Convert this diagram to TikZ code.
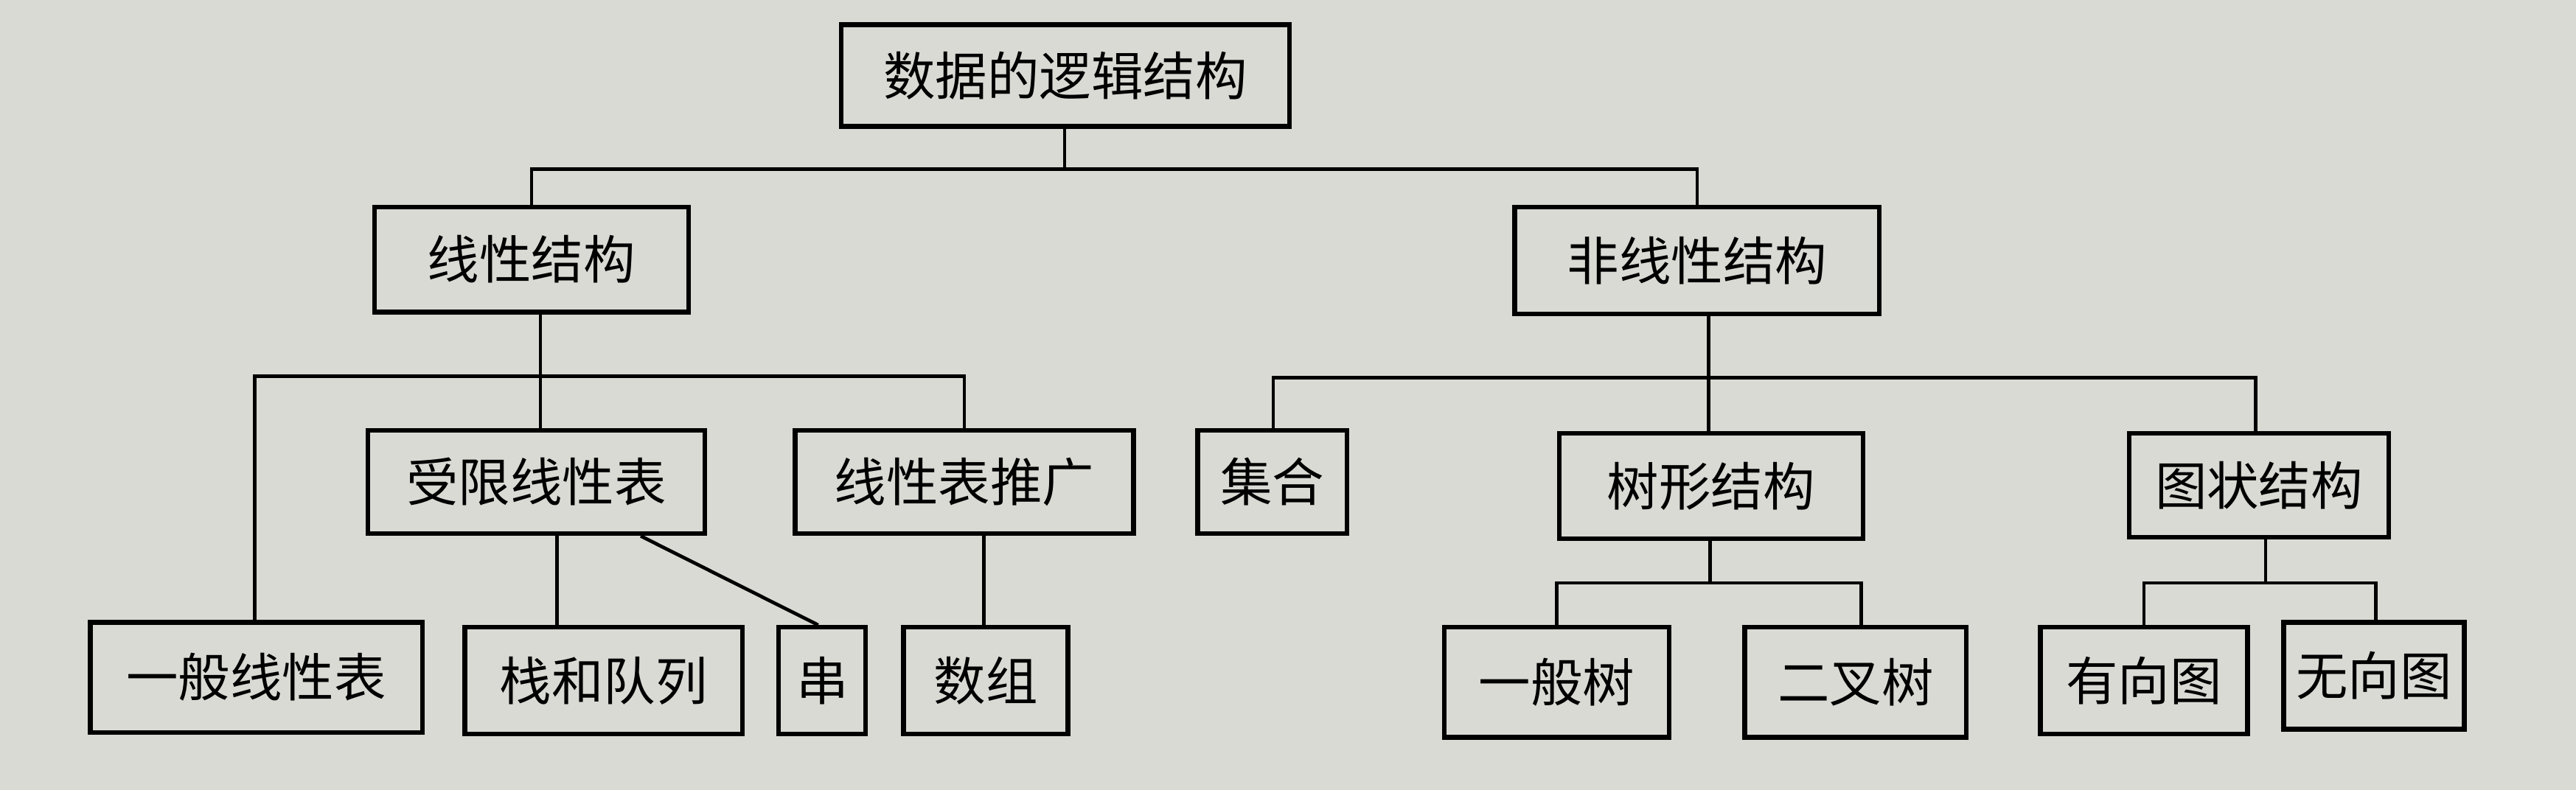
\documentclass[tikz,border=0pt]{standalone}
\usepackage{fontspec}
\setmainfont{Noto Sans CJK SC}
\usepackage[HTML]{xcolor}
\usepackage{tikz}
\usetikzlibrary{positioning}
\definecolor{paper}{HTML}{DADAD5}

\tikzset{
  box/.style={draw, thick, inner sep=0pt, font=\fontsize{9}{10}\selectfont},
  link/.style={draw, semithick}
}

\begin{document}
\begin{tikzpicture}[x=1mm, y=1mm]
\fill[paper] (0,0) rectangle (156.8,48.1);
\useasboundingbox (0,0) rectangle (156.8,48.1);

% top level
\node[box, minimum width=27.3mm, minimum height=6.2mm] (root) at (64.85,43.5) {数据的逻辑结构};
\node[box, minimum width=19.1mm, minimum height=6.4mm] (lin) at (32.35,32.3) {线性结构};
\node[box, minimum width=22.2mm, minimum height=6.5mm] (nonlin) at (103.3,32.25) {非线性结构};

% second level
\node[box, minimum width=20.5mm, minimum height=6.3mm] (limit) at (32.65,18.75) {受限线性表};
\node[box, minimum width=20.6mm, minimum height=6.3mm] (ext) at (58.7,18.75) {线性表推广};
\node[box, minimum width=9.1mm, minimum height=6.3mm] (set) at (77.45,18.75) {集合};
\node[box, minimum width=18.5mm, minimum height=6.4mm] (tree) at (104.15,18.5) {树形结构};
\node[box, minimum width=15.8mm, minimum height=6.3mm] (graph) at (137.5,18.55) {图状结构};

% leaves
\node[box, minimum width=20.2mm, minimum height=6.7mm] (list) at (15.6,6.85) {一般线性表};
\node[box, minimum width=16.9mm, minimum height=6.5mm] (stack) at (36.75,6.65) {栈和队列};
\node[box, minimum width=5.3mm, minimum height=6.5mm] (str) at (50.05,6.65) {串};
\node[box, minimum width=10mm, minimum height=6.5mm] (arr) at (60,6.65) {数组};
\node[box, minimum width=13.7mm, minimum height=6.7mm] (gtree) at (94.75,6.55) {一般树};
\node[box, minimum width=13.5mm, minimum height=6.7mm] (btree) at (112.95,6.55) {二叉树};
\node[box, minimum width=12.6mm, minimum height=6.5mm] (dgraph) at (130.5,6.65) {有向图};
\node[box, minimum width=11mm, minimum height=6.5mm] (ugraph) at (144.5,6.95) {无向图};

% buses
\coordinate (bRoot) at (64.8,37.8);
\coordinate (bLin) at (32.9,25.2);
\coordinate (bNon) at (104.0,25.1);
\coordinate (bTree) at (104.1,12.6);
\coordinate (bGraph) at (137.9,12.6);

\draw[link] (root.south -| bRoot) -- (bRoot);
\draw[link] (lin.north) |- (bRoot) -| (nonlin.north);

\draw[link] (lin.south -| bLin) -- (bLin);
\draw[link] (list.north -| 15.5,0) |- (bLin) -| (ext.north);
\draw[link] (bLin) -- (limit.north -| bLin);

\draw[link] (nonlin.south -| bNon) -- (bNon);
\draw[link] (set.north -| 77.5,0) |- (bNon) -| (graph.north -| 137.3,0);
\draw[link] (bNon) -- (tree.north -| bNon);

\draw[link] (limit.south -| 33.9,0) -- (stack.north -| 33.9,0);
\draw[link] (limit.south -| 39.0,0) -- (str.north -| 49.8,0);
\draw[link] (ext.south -| 59.9,0) -- (arr.north -| 59.9,0);

\draw[link] (tree.south -| bTree) -- (bTree);
\draw[link] (gtree.north) |- (bTree) -| (btree.north -| 113.3,0);

\draw[link] (graph.south -| bGraph) -- (bGraph);
\draw[link] (dgraph.north) |- (bGraph) -| (ugraph.north -| 144.6,0);
\end{tikzpicture}
\end{document}
